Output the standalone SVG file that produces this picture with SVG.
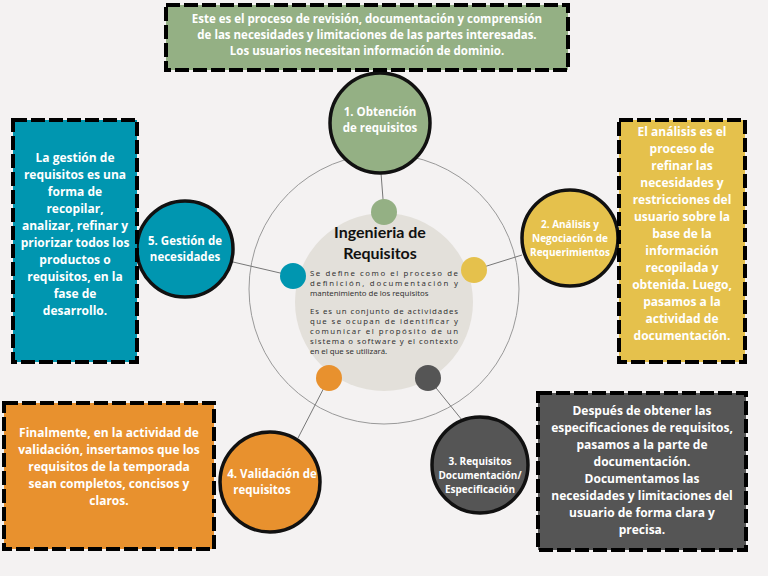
<svg xmlns="http://www.w3.org/2000/svg" width="768" height="576" viewBox="0 0 768 576">
<style>
.box{stroke:#000;stroke-width:4;stroke-dasharray:14 4}
.node{stroke:#111;stroke-width:3.5}
.t{font-family:"Open Sans","Liberation Sans",sans-serif;font-weight:bold;fill:#fff;text-anchor:middle}
.c{font-family:"Noto Sans","Liberation Sans",sans-serif;fill:#333;font-size:7.8px}
.conn line{stroke:#777;stroke-width:1}
</style>
<rect width="768" height="576" fill="#f4f2f2"/>
<circle cx="384" cy="289" r="135" fill="none" stroke="#999" stroke-width="1"/>
<circle cx="384" cy="302" r="89" fill="#e3e0da"/>
<g class="conn">
<line x1="381" y1="173" x2="384" y2="212"/>
<line x1="522" y1="255" x2="474" y2="270"/>
<line x1="462" y1="420" x2="428" y2="378"/>
<line x1="298" y1="438" x2="329" y2="378"/>
<line x1="233" y1="262" x2="293" y2="276"/>
</g>
<circle cx="384" cy="212" r="13" fill="#94b084"/>
<circle cx="474" cy="270" r="13" fill="#e5c14c"/>
<circle cx="428" cy="378" r="13" fill="#555"/>
<circle cx="329" cy="378" r="13" fill="#e8912e"/>
<circle cx="293" cy="276" r="13" fill="#0096b0"/>
<g id="center">
<text x="380" y="238" font-family="Lato,'Liberation Sans',sans-serif" font-weight="bold" font-size="16" text-anchor="middle" fill="#111">Ingenieria de</text>
<text x="380" y="259" font-family="Lato,'Liberation Sans',sans-serif" font-weight="bold" font-size="16" text-anchor="middle" fill="#111">Requisitos</text>
<text class="c" x="310" y="276" textLength="148" lengthAdjust="spacing">Se define como el proceso de</text>
<text class="c" x="310" y="286" textLength="148" lengthAdjust="spacing">definición, documentación y</text>
<text class="c" x="310" y="296">mantenimiento de los requisitos</text>
<text class="c" x="310" y="314" textLength="148" lengthAdjust="spacing">Es es un conjunto de actividades</text>
<text class="c" x="310" y="324" textLength="148" lengthAdjust="spacing">que se ocupan de identificar y</text>
<text class="c" x="310" y="334" textLength="148" lengthAdjust="spacing">comunicar el propósito de un</text>
<text class="c" x="310" y="344" textLength="148" lengthAdjust="spacing">sistema o software y el contexto</text>
<text class="c" x="310" y="354">en el que se utilizará.</text>
</g>
<g id="n1">
<circle class="node" cx="380" cy="123" r="50" fill="#94b084"/>
<text class="t" font-size="11.5" x="380" y="116">1. Obtención</text>
<text class="t" font-size="11.5" x="380" y="132">de requisitos</text>
</g>
<g id="n2">
<circle class="node" cx="570" cy="238" r="48" fill="#e5c14c"/>
<text class="t" font-size="10" x="570" y="228">2. Análisis y</text>
<text class="t" font-size="10" x="570" y="242">Negociación de</text>
<text class="t" font-size="10" x="570" y="256">Requerimientos</text>
</g>
<g id="n3">
<circle class="node" cx="480" cy="465" r="48" fill="#555"/>
<text class="t" font-size="10" x="480" y="465">3. Requisitos</text>
<text class="t" font-size="10" x="480" y="479">Documentación/</text>
<text class="t" font-size="10" x="480" y="493">Especificación</text>
</g>
<g id="n4">
<circle class="node" cx="270" cy="482" r="50" fill="#e8912e"/>
<text class="t" font-size="11.5" x="272" y="478">4. Validación de</text>
<text class="t" font-size="11.5" x="262" y="494">requisitos</text>
</g>
<g id="n5">
<circle class="node" cx="185" cy="249" r="48" fill="#0096b0"/>
<text class="t" font-size="11.5" x="185" y="245">5. Gestión de</text>
<text class="t" font-size="11.5" x="185" y="261">necesidades</text>
</g>
<g id="b1">
<rect class="box" x="166" y="5" width="402" height="65" fill="#94b084"/>
<text class="t" font-size="11.5" x="367" y="23">Este es el proceso de revisión, documentación y comprensión</text>
<text class="t" font-size="11.5" x="367" y="39">de las necesidades y limitaciones de las partes interesadas.</text>
<text class="t" font-size="11.5" x="367" y="55">Los usuarios necesitan información de dominio.</text>
</g>
<g id="b2">
<rect class="box" x="619" y="120" width="126" height="242" fill="#e5c14c"/>
<g class="t" font-size="12">
<text x="682" y="136">El análisis es el</text>
<text x="682" y="153">proceso de</text>
<text x="682" y="170">refinar las</text>
<text x="682" y="187">necesidades y</text>
<text x="682" y="204">restricciones del</text>
<text x="682" y="221">usuario sobre la</text>
<text x="682" y="238">base de la</text>
<text x="682" y="255">información</text>
<text x="682" y="272">recopilada y</text>
<text x="682" y="289">obtenida. Luego,</text>
<text x="682" y="306">pasamos a la</text>
<text x="682" y="323">actividad de</text>
<text x="682" y="340">documentación.</text>
</g>
</g>
<g id="b3">
<rect class="box" x="538" y="393" width="208" height="157" fill="#555"/>
<g class="t" font-size="12">
<text x="642" y="415">Después de obtener las</text>
<text x="642" y="432">especificaciones de requisitos,</text>
<text x="642" y="449">pasamos a la parte de</text>
<text x="642" y="466">documentación.</text>
<text x="642" y="483">Documentamos las</text>
<text x="642" y="500">necesidades y limitaciones del</text>
<text x="642" y="517">usuario de forma clara y</text>
<text x="642" y="534">precisa.</text>
</g>
</g>
<g id="b4">
<rect class="box" x="4" y="403" width="210" height="146" fill="#e8912e"/>
<g class="t" font-size="12">
<text x="109" y="437">Finalmente, en la actividad de</text>
<text x="109" y="454">validación, insertamos que los</text>
<text x="109" y="471">requisitos de la temporada</text>
<text x="109" y="488">sean completos, concisos y</text>
<text x="109" y="505">claros.</text>
</g>
</g>
<g id="b5">
<rect class="box" x="13" y="120" width="124" height="242" fill="#0096b0"/>
<g class="t" font-size="12">
<text x="75" y="162">La gestión de</text>
<text x="75" y="179">requisitos es una</text>
<text x="75" y="196">forma de</text>
<text x="75" y="213">recopilar,</text>
<text x="75" y="230">analizar, refinar y</text>
<text x="75" y="247">priorizar todos los</text>
<text x="75" y="264">productos o</text>
<text x="75" y="281">requisitos, en la</text>
<text x="75" y="298">fase de</text>
<text x="75" y="315">desarrollo.</text>
</g>
</g>
</svg>
